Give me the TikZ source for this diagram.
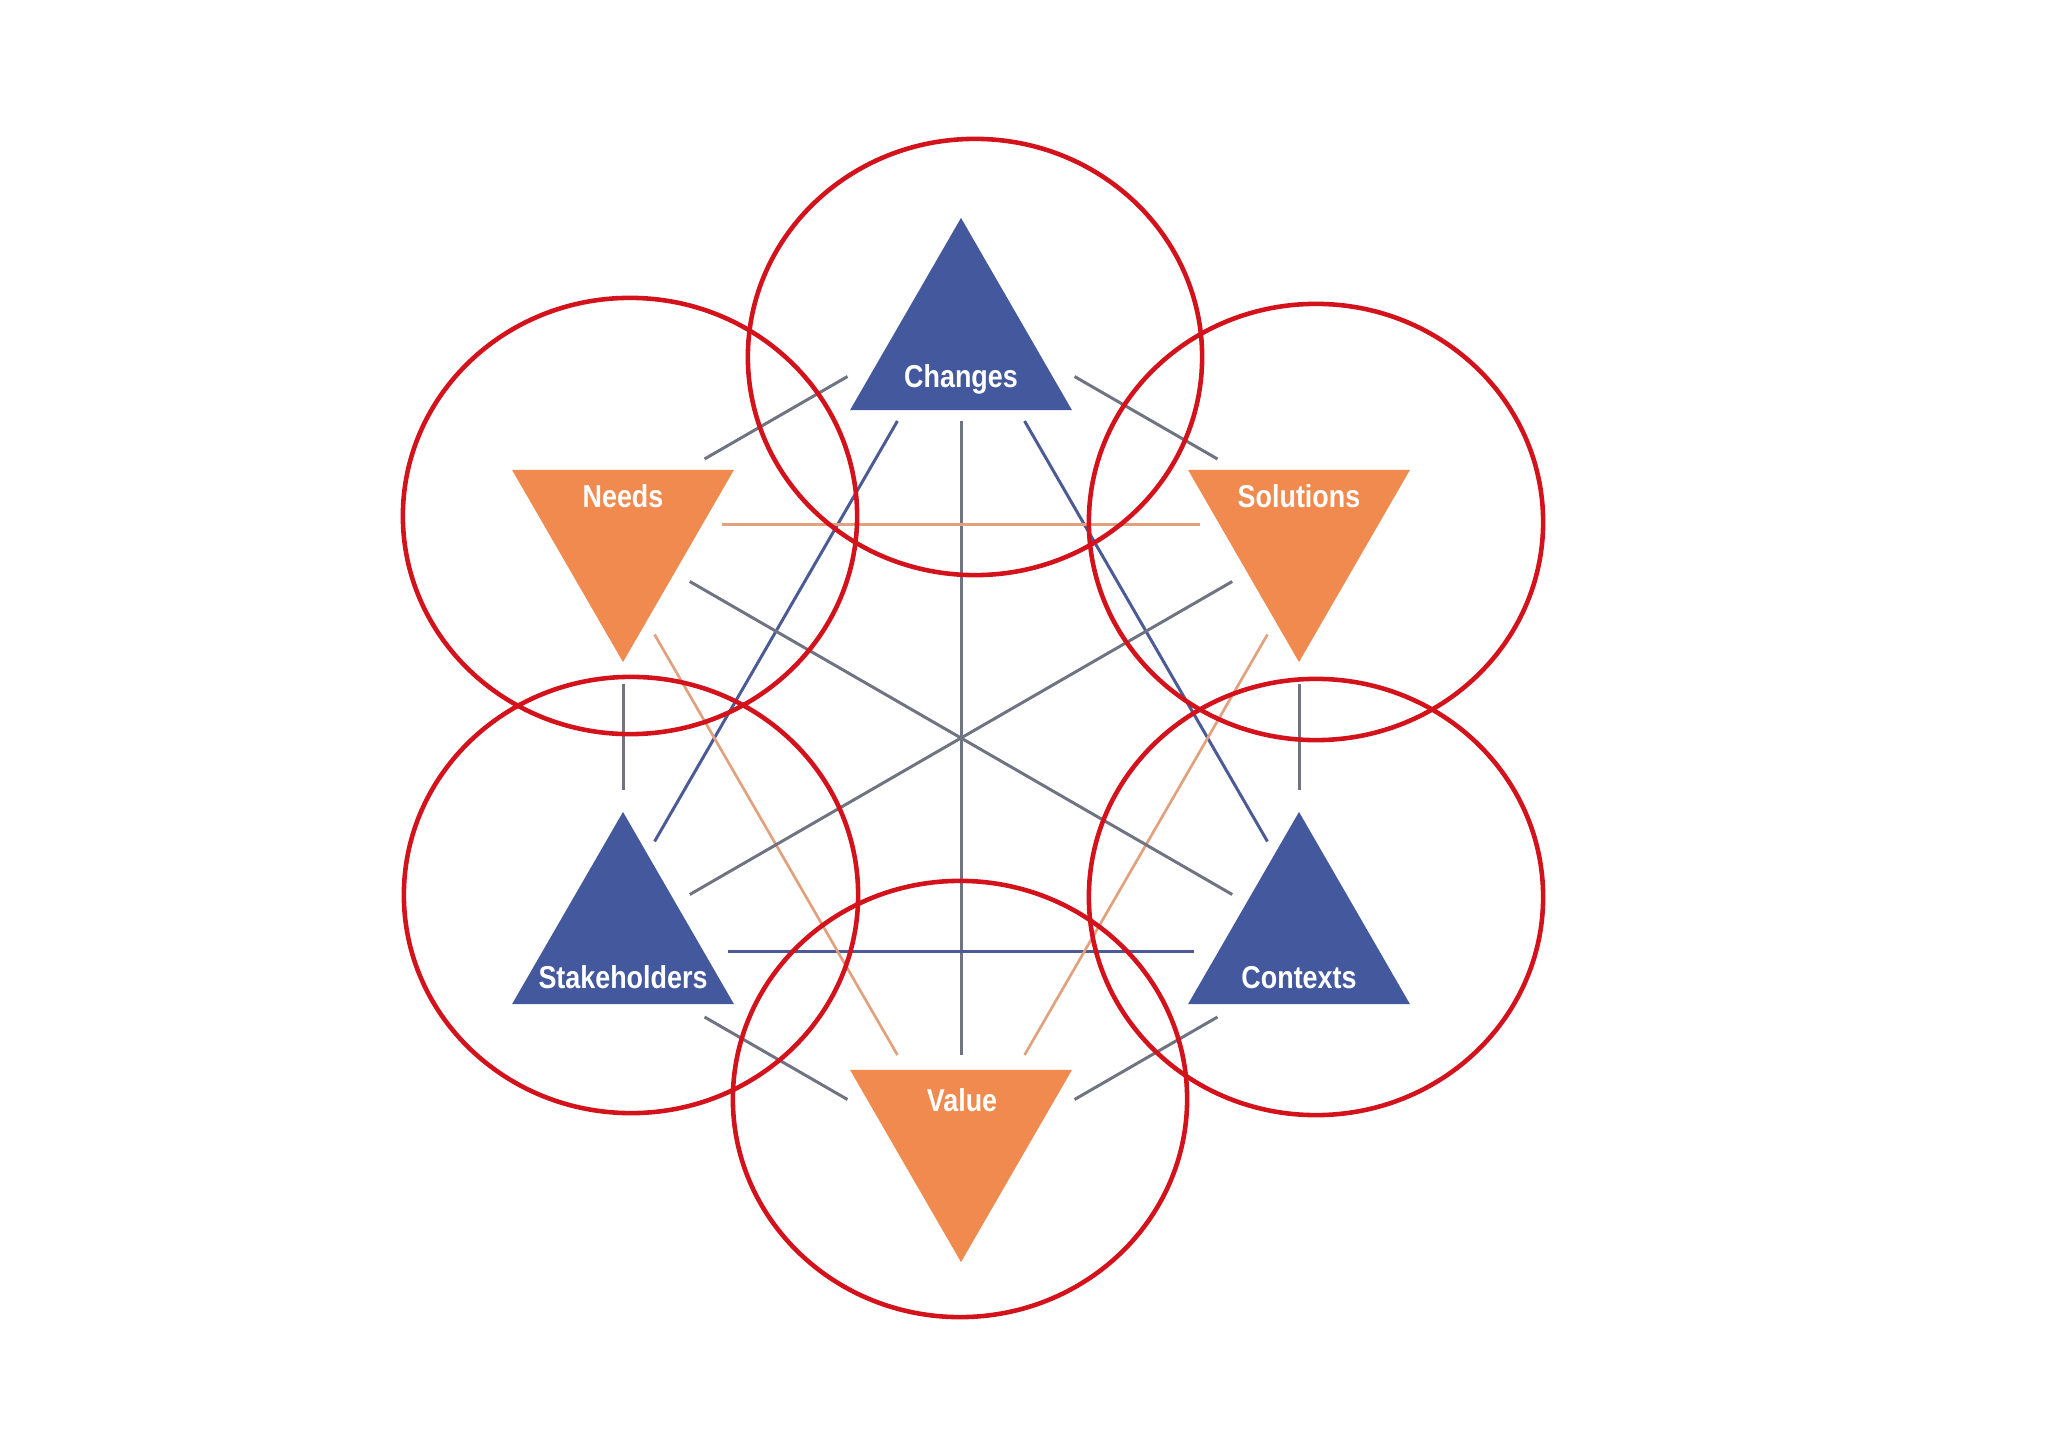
\documentclass[tikz,border=0pt]{standalone}
\usepackage{fontspec}
\newfontfamily\tagfont[FakeStretch=0.85]{Liberation Sans}
\usetikzlibrary{shapes.geometric}
\definecolor{triBlue}{RGB}{68,88,158}
\definecolor{triOrange}{RGB}{240,138,78}
\definecolor{ringRed}{RGB}{212,18,28}
\definecolor{lineGrey}{RGB}{112,116,130}
\definecolor{lineBlue}{RGB}{76,90,150}
\definecolor{lineOrange}{RGB}{226,160,124}

\begin{document}
\begin{tikzpicture}
[x=0.01cm, y=-0.01cm,%
  triUp/.style={regular polygon, regular polygon sides=3, minimum size=2.56cm,
    inner sep=0pt, outer sep=0pt, fill=triBlue},%
  triDown/.style={triUp, shape border rotate=180, fill=triOrange},%
  ringDecorate/.style={draw=ringRed, line width=1.3pt},%
  tagDecorate/.style={text=white, anchor=base, inner sep=0pt,
    font=\tagfont\bfseries\fontsize{9}{10}\selectfont},%
  linkGrey/.style={draw=lineGrey, line width=0.85pt},%
  linkBlue/.style={draw=lineBlue, line width=0.85pt},%
  linkOrange/.style={draw=lineOrange, line width=0.75pt}]
\fill[white] (0,0) rectangle (2048,1449);
\useasboundingbox (0,0) rectangle (2048,1449);
%% hubs the links run between
\foreach \hubname/\x/\y in {
  hC/961/311, hN/591/524.5, hS/1331/524.5, hK/591/951.5, hX/1331/951.5, hV/961/1165}
{
  \coordinate (\hubname) at (\x,\y);
}
%% triangles
\foreach \nodename/\x/\y/\kind in {
  chg/961/346/triUp, need/623/534/triDown, sol/1299/534/triDown,
  stk/623/940/triUp, ctx/1299/940/triUp, val/961/1134/triDown}
{
  \node[\kind] (\nodename) at (\x,\y) {};
}
%% links
\foreach \startnode/\endnode/\cut/\kind in {
  hC/hN/1.31/linkGrey, hC/hS/1.31/linkGrey, hC/hV/1.10/linkGrey,
  hC/hK/1.27/linkBlue, hC/hX/1.27/linkBlue, hK/hX/1.37/linkBlue,
  hN/hS/1.31/linkOrange, hN/hV/1.27/linkOrange, hS/hV/1.27/linkOrange,
  hN/hX/1.14/linkGrey, hS/hK/1.14/linkGrey,
  hK/hV/1.31/linkGrey, hX/hV/1.31/linkGrey,
  need/stk/0.22/linkGrey, sol/ctx/0.22/linkGrey}
{
  \draw[\kind, shorten <=\cut cm, shorten >=\cut cm] (\startnode) -- (\endnode);
}
%% rings
\foreach \x/\y in {975/357, 630/516, 1316/522, 631/895, 1316/897, 960/1099}
{
  \draw[ringDecorate] (\x,\y) ellipse [x radius=2.27cm, y radius=2.18cm];
}
%% labels
\foreach \nodename/\x/\y/\txt in {
  chgTag/961/388/Changes, needTag/623/508/Needs, solTag/1299/508/Solutions,
  stkTag/623/988/Stakeholders, ctxTag/1299/988/Contexts, valTag/962/1111/Value}
{
  \node[tagDecorate] (\nodename) at (\x,\y) {\txt};
}
\end{tikzpicture}
\end{document}
